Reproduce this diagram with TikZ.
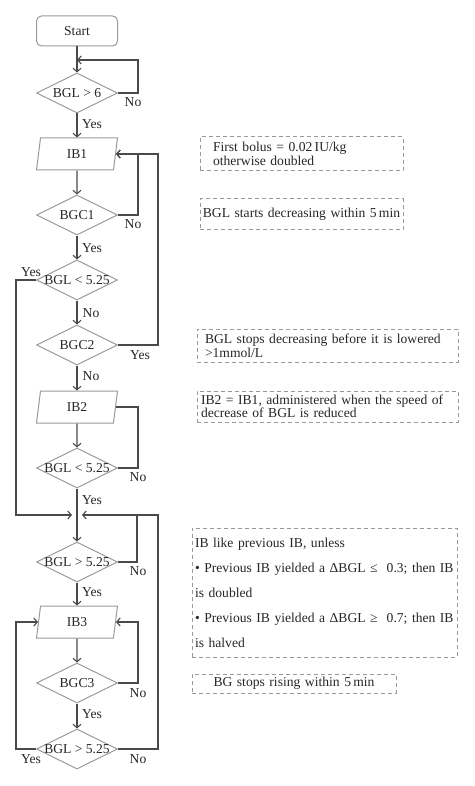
\documentclass[tikz,border=0pt]{standalone}
\usepackage{fontspec}
\setmainfont{Liberation Serif}
\usetikzlibrary{shapes.geometric,arrows.meta}
\definecolor{boxgray}{HTML}{9A9A9A}
\definecolor{linegray}{HTML}{4A4A4A}
\definecolor{txtgray}{HTML}{262626}
\newcommand{\dtext}[1]{\makebox[0pt]{#1}}

\begin{document}
\begin{tikzpicture}[x=1pt, y=-1pt,
    font=\fontsize{13.6pt}{16pt}\selectfont, text=txtgray,
    startbox/.style={draw=boxgray, line width=1pt, rounded corners=5pt,
        minimum width=81pt, minimum height=30pt, inner sep=0pt},
    dia/.style={diamond, draw=boxgray, line width=1pt,
        minimum width=81pt, minimum height=40pt, inner sep=0pt},
    iobox/.style={trapezium, trapezium left angle=66, trapezium right angle=114,
        trapezium stretches body, draw=boxgray, line width=1pt,
        minimum width=81pt, minimum height=32pt, inner sep=0pt},
    note/.style={draw=boxgray, line width=1pt, dash pattern=on 4pt off 3pt,
        inner ysep=0pt},
    arr/.style={draw=linegray, line width=1.1pt,
        -{Straight Barb[length=3.5pt,width=8pt]}},
    ln/.style={draw=linegray, line width=1.1pt},
    lbl/.style={inner sep=0pt}]

    % --- canvas ---
    \useasboundingbox (0,0) rectangle (474,786);

    % --- parameters ---
    \def\cx{77}     % x of the main column
    \def\rxa{137}   % x of the inner loop lines

    % --- main column ---
    \node[startbox] (start) at (\cx,31) {Start};
    \node[dia] (d1) at (\cx,93) {\dtext{BGL > 6}};
    \node[iobox] (ib1) at (\cx,154) {IB1};
    \node[dia] (d2) at (\cx,215) {\dtext{BGC1}};
    \node[dia] (d3) at (\cx,280) {\dtext{BGL < 5.25}};
    \node[dia] (d4) at (\cx,345) {\dtext{BGC2}};
    \node[iobox] (ib2) at (\cx,407) {IB2};
    \node[dia] (d5) at (\cx,468) {\dtext{BGL < 5.25}};
    \node[dia] (d6) at (\cx,562) {\dtext{BGL > 5.25}};
    \node[iobox] (ib3) at (\cx,622) {IB3};
    \node[dia] (d7) at (\cx,683) {\dtext{BGC3}};
    \node[dia] (d8) at (\cx,749) {\dtext{BGL > 5.25}};

    % join points
    \coordinate (j1) at (\cx,60);
    \coordinate (jn) at (\cx,515);
    \coordinate (jr) at (\rxa,515);

    % --- connectors ---
    \draw[arr] (start) -- (d1);
    \draw[arr] (d1.east) -- ++(20,0) |- (j1);
    \draw[arr] (d1) -- (ib1);
    \draw[arr] (ib1) -- (d2);
    \draw[arr] (d2.east) -- ++(20,0) |- (ib1.east);
    \draw[arr] (d2) -- (d3);
    \draw[arr, shorten >=5pt] (d3.west) -- ++(-20,0) |- (jn);
    \draw[arr] (d3) -- (d4);
    \draw[arr] (d4.east) -- ++(40,0) |- (ib1.east);
    \draw[arr] (d4) -- (ib2);
    \draw[arr] (ib2) -- (d5);
    \draw[ln] (d5.east) -- ++(20,0) |- (ib2.east);
    \draw[ln] (d5) -- (jn);
    \draw[arr] (jn) -- (d6);
    \draw[ln] (d6.east) -| (jr);
    \draw[arr] (d6) -- (ib3);
    \draw[arr] (ib3) -- (d7);
    \draw[arr] (d7.east) -- ++(20,0) |- (ib3.east);
    \draw[arr] (d7) -- (d8);
    \draw[arr] (d8.west) -- ++(-20,0) |- (ib3.west);
    \draw[arr, shorten >=5pt] (d8.east) -- ++(40,0) |- (jn);

    % --- Yes / No labels ---
    \node[lbl] (n1) at (133,102) {No};
    \node[lbl] (y1) at (92,124) {Yes};
    \node[lbl] (n2) at (133,224) {No};
    \node[lbl] (y2) at (92,248) {Yes};
    \node[lbl] (y3) at (31,272) {Yes};
    \node[lbl] (n3) at (91,313) {No};
    \node[lbl] (y4) at (140,355) {Yes};
    \node[lbl] (n4) at (91,376) {No};
    \node[lbl] (n5) at (138,477) {No};
    \node[lbl] (y5) at (92,500) {Yes};
    \node[lbl] (n6) at (138,571) {No};
    \node[lbl] (y6) at (92,592) {Yes};
    \node[lbl] (n7) at (138,693) {No};
    \node[lbl] (y7) at (92,714) {Yes};
    \node[lbl] (y8) at (31,759) {Yes};
    \node[lbl] (n8) at (138,759) {No};

    % --- dashed notes ---
    \node[note, text width=177pt, inner xsep=13pt, minimum height=34pt, align=left,
        font=\fontsize{13.6pt}{11pt}\selectfont] (c1) at (301.5,154)
        {First bolus = 0.02\,IU/kg\\otherwise doubled};
    \node[note, text width=199pt, inner xsep=2pt, minimum height=31pt, align=center]
        (c2) at (301.5,214.5) {BGL starts decreasing within 5\,min};
    \node[note, text width=245pt, inner xsep=8pt, minimum height=33pt, align=left,
        font=\fontsize{13.6pt}{14pt}\selectfont] (c3) at (327.5,345.5)
        {BGL stops decreasing before it is lowered\\>1mmol/L};
    \node[note, text width=253pt, inner xsep=4pt, minimum height=31pt, align=left,
        font=\fontsize{13.6pt}{13pt}\selectfont] (c4) at (327.5,406.5)
        {IB2 = IB1, administered when the speed of\\decrease of BGL is reduced};
    \node[note, text width=259pt, inner xsep=3pt, minimum height=129pt, align=left,
        font=\fontsize{13.6pt}{25pt}\selectfont] (c5) at (324.5,592.5)
        {IB like previous IB, unless\\
         • Previous IB yielded a ΔBGL ≤\ \ 0.3; then IB\\
         is doubled\\
         • Previous IB yielded a ΔBGL ≥\ \ 0.7; then IB\\
         is halved};
    \node[note, text width=200pt, inner xsep=2pt, minimum height=19pt, align=center]
        (c6) at (294,683.5) {BG stops rising within 5\,min};

\end{tikzpicture}
\end{document}
